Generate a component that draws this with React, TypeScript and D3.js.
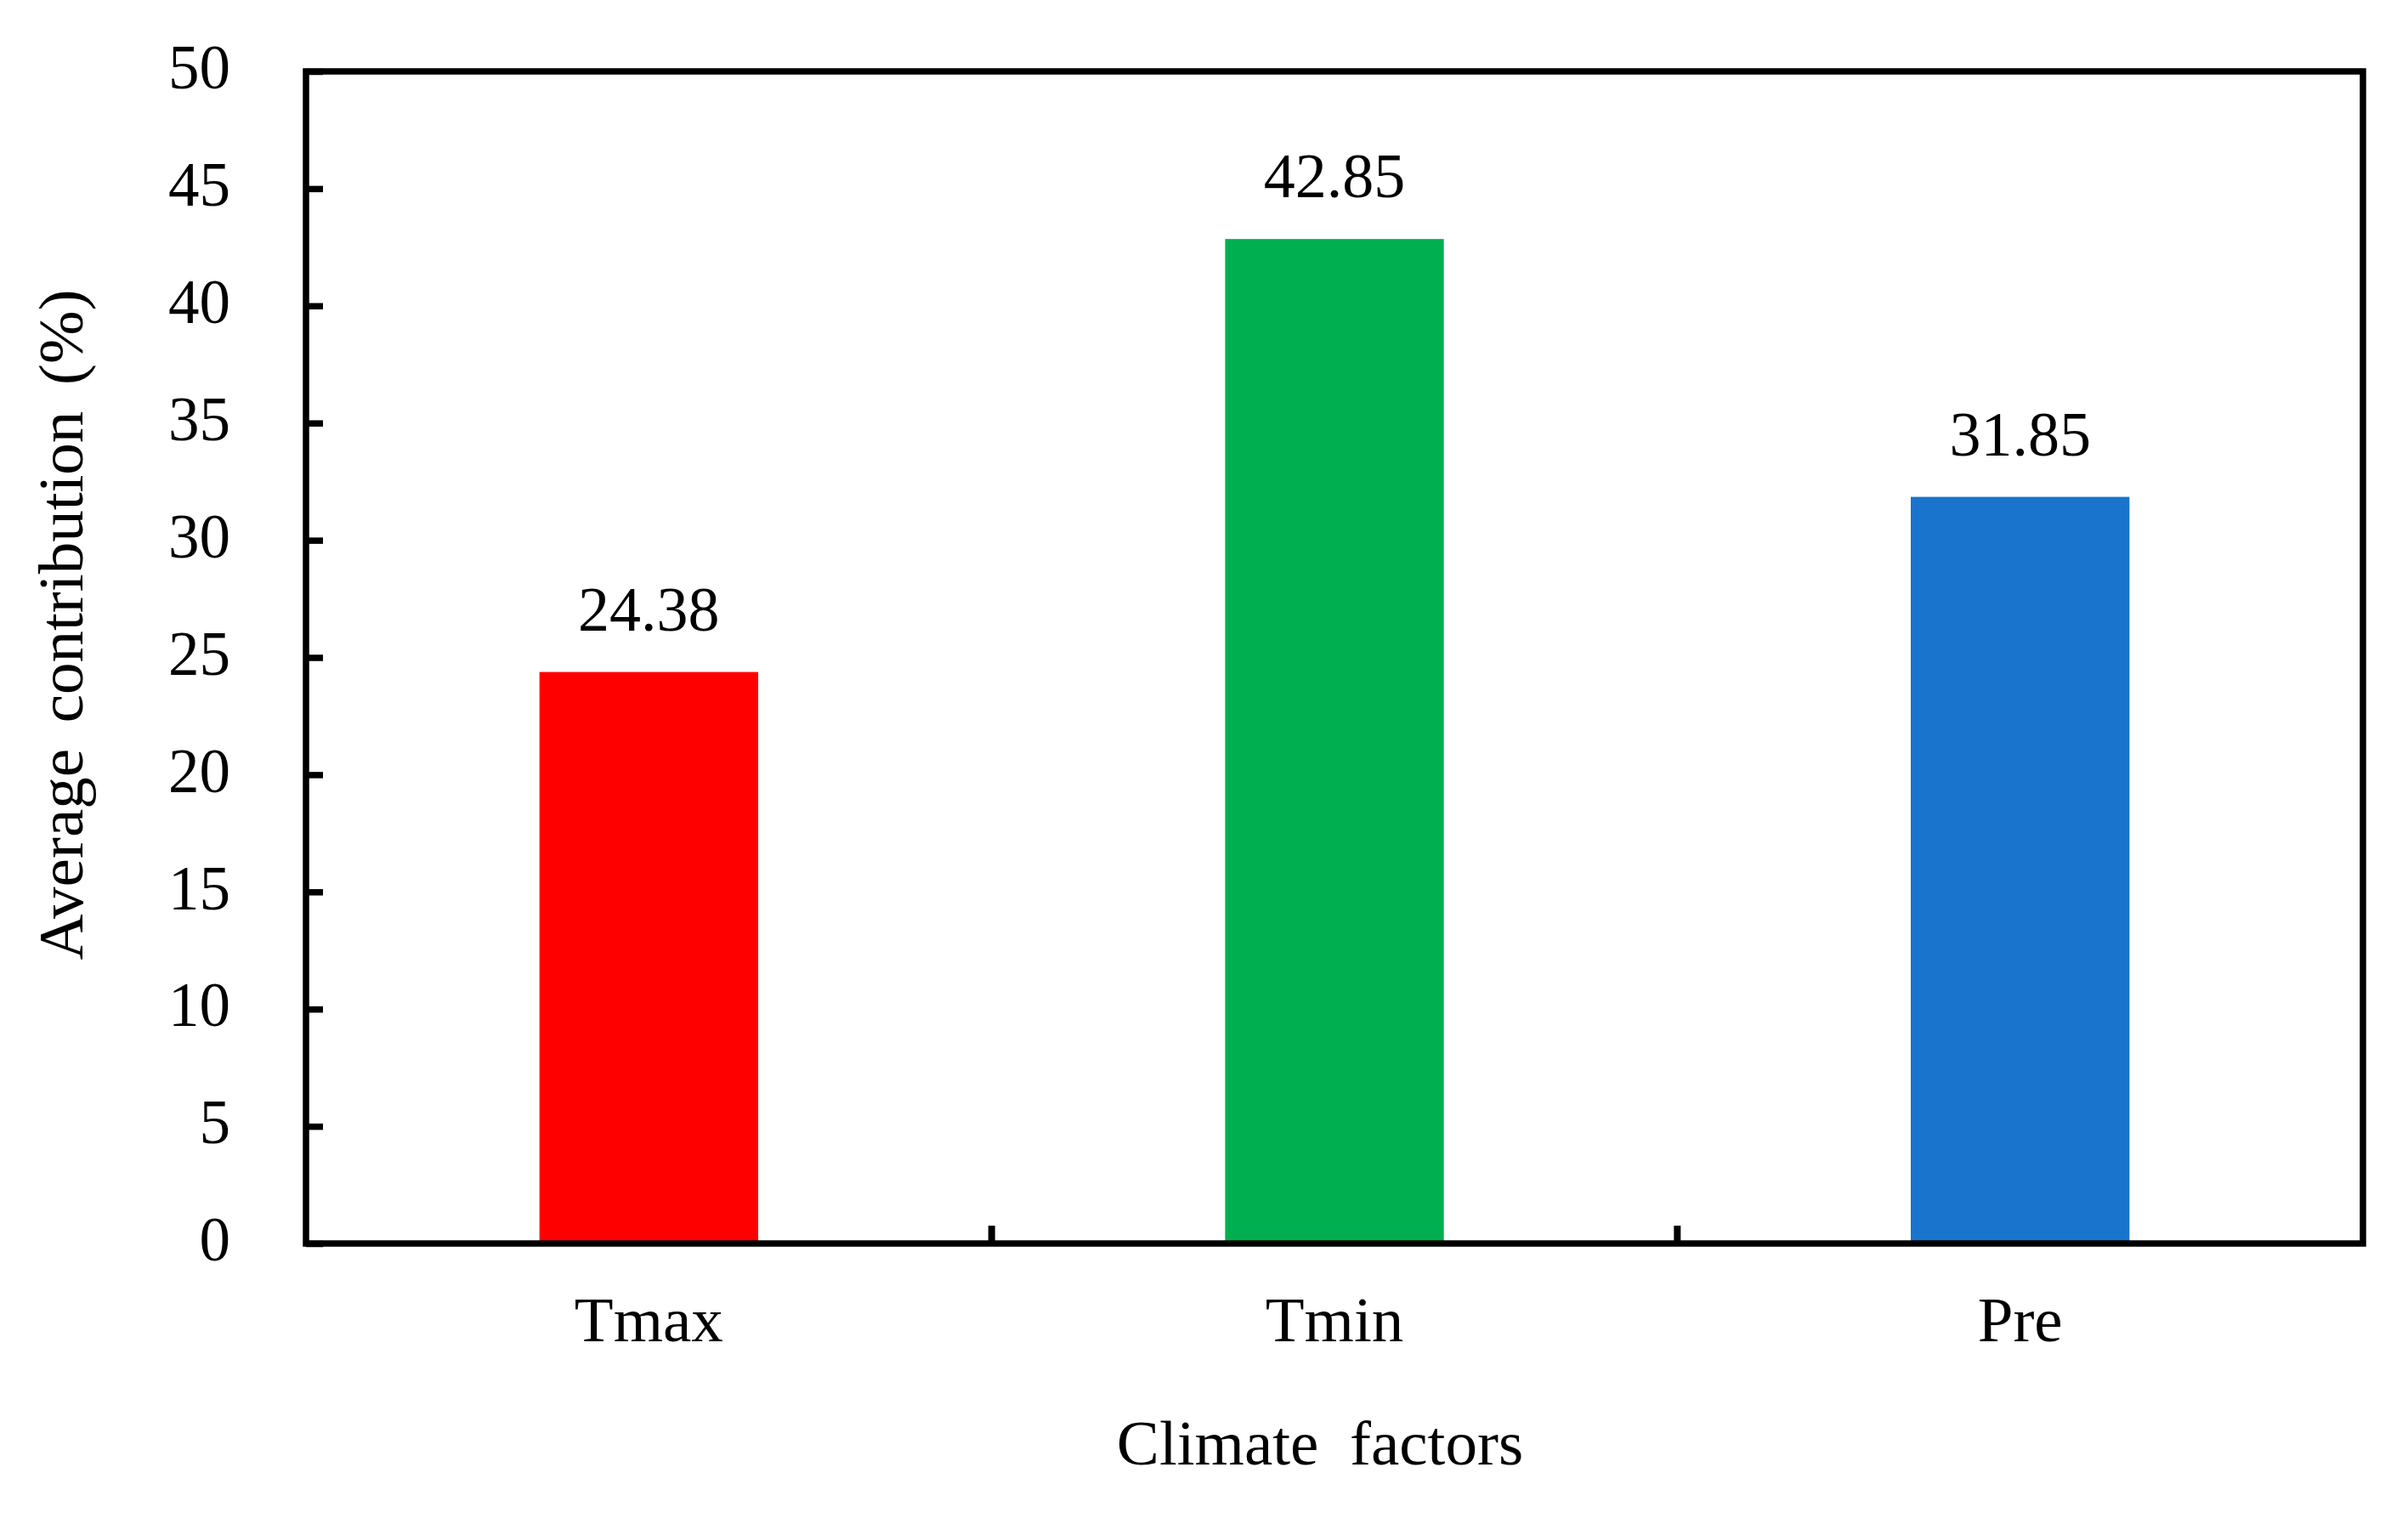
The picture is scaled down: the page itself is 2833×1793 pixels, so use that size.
import * as d3 from "d3";
import React, { useEffect, useRef } from "react";

// Chart data
const factors = ["Tmax", "Tmin", "Pre"];
const contributions = [24.38, 42.85, 31.85];
const barColors = ["#ff0000", "#00b050", "#1874cd"];
const yTicks = [0, 5, 10, 15, 20, 25, 30, 35, 40, 45, 50];

const WIDTH = 2833;
const HEIGHT = 1793;
const FONT = "'Liberation Serif', 'Times New Roman', serif";

const App: React.FC = () => {
  const svgRef = useRef<SVGSVGElement>(null);

  useEffect(() => {
    if (!svgRef.current) return;
    document.body.style.margin = "0";

    const margin = { top: 84, right: WIDTH - 2780, bottom: HEIGHT - 1463, left: 360 };
    const plotWidth = WIDTH - margin.left - margin.right;
    const plotHeight = HEIGHT - margin.top - margin.bottom;

    const svg = d3.select(svgRef.current);
    svg.selectAll("*").remove();
    svg.attr("width", WIDTH).attr("height", HEIGHT).style("background", "#ffffff");

    const g = svg
      .append("g")
      .attr("transform", `translate(${margin.left},${margin.top})`);

    const x = d3.scaleBand().domain(factors).range([0, plotWidth]).padding(0);
    const y = d3.scaleLinear().domain([0, 50]).range([plotHeight, 0]);
    const barWidth = x.bandwidth() * 0.319;

    // Bars
    g.selectAll("rect.bar")
      .data(factors)
      .join("rect")
      .attr("class", "bar")
      .attr("x", (d) => (x(d) || 0) + x.bandwidth() / 2 - barWidth / 2)
      .attr("y", (d, i) => y(contributions[i]))
      .attr("width", barWidth)
      .attr("height", (d, i) => plotHeight - y(contributions[i]))
      .attr("fill", (d, i) => barColors[i]);

    // Value labels
    g.selectAll("text.value")
      .data(factors)
      .join("text")
      .attr("class", "value")
      .attr("x", (d) => (x(d) || 0) + x.bandwidth() / 2)
      .attr("y", (d, i) => y(contributions[i]) - 49)
      .attr("text-anchor", "middle")
      .style("font-family", FONT)
      .style("font-size", "74px")
      .attr("fill", "#000")
      .text((d, i) => contributions[i].toFixed(2));

    // Y ticks (inside) and labels
    const yAxis = d3
      .axisLeft(y)
      .tickValues(yTicks)
      .tickSize(-20)
      .tickPadding(89 - 0)
      .tickFormat(d3.format("d"));
    const yG = g.append("g").call(yAxis);
    yG.select(".domain").remove();
    yG.selectAll(".tick line").attr("stroke", "#000").attr("stroke-width", 7.5);
    yG.selectAll(".tick text")
      .attr("x", -89)
      .attr("dy", "0.27em")
      .style("font-family", FONT)
      .style("font-size", "73px")
      .attr("fill", "#000");

    // X ticks at category boundaries (inside)
    const boundaries = factors.slice(1).map((d) => x(d) || 0);
    g.selectAll("line.xtick")
      .data(boundaries)
      .join("line")
      .attr("class", "xtick")
      .attr("x1", (d) => d)
      .attr("x2", (d) => d)
      .attr("y1", plotHeight)
      .attr("y2", plotHeight - 21)
      .attr("stroke", "#000")
      .attr("stroke-width", 8);

    // Category labels
    g.selectAll("text.cat")
      .data(factors)
      .join("text")
      .attr("class", "cat")
      .attr("x", (d) => (x(d) || 0) + x.bandwidth() / 2)
      .attr("y", plotHeight + 115)
      .attr("text-anchor", "middle")
      .style("font-family", FONT)
      .style("font-size", "75px")
      .attr("fill", "#000")
      .text((d) => d);

    // Plot frame
    g.append("rect")
      .attr("x", 0)
      .attr("y", 0)
      .attr("width", plotWidth)
      .attr("height", plotHeight)
      .attr("fill", "none")
      .attr("stroke", "#000")
      .attr("stroke-width", 7.5);

    // X axis title
    svg
      .append("text")
      .attr("x", 1553)
      .attr("y", 1723)
      .attr("text-anchor", "middle")
      .style("font-family", FONT)
      .style("font-size", "75px")
      .style("word-spacing", "18px")
      .attr("fill", "#000")
      .text("Climate factors");

    // Y axis title
    svg
      .append("text")
      .attr("transform", `translate(97,735) rotate(-90)`)
      .attr("text-anchor", "middle")
      .style("font-family", FONT)
      .style("font-size", "75px")
      .style("word-spacing", "12px")
      .attr("fill", "#000")
      .text("Average contribution (%)");
  }, []);

  return <svg ref={svgRef} style={{ display: "block" }} />;
};

export default App;
